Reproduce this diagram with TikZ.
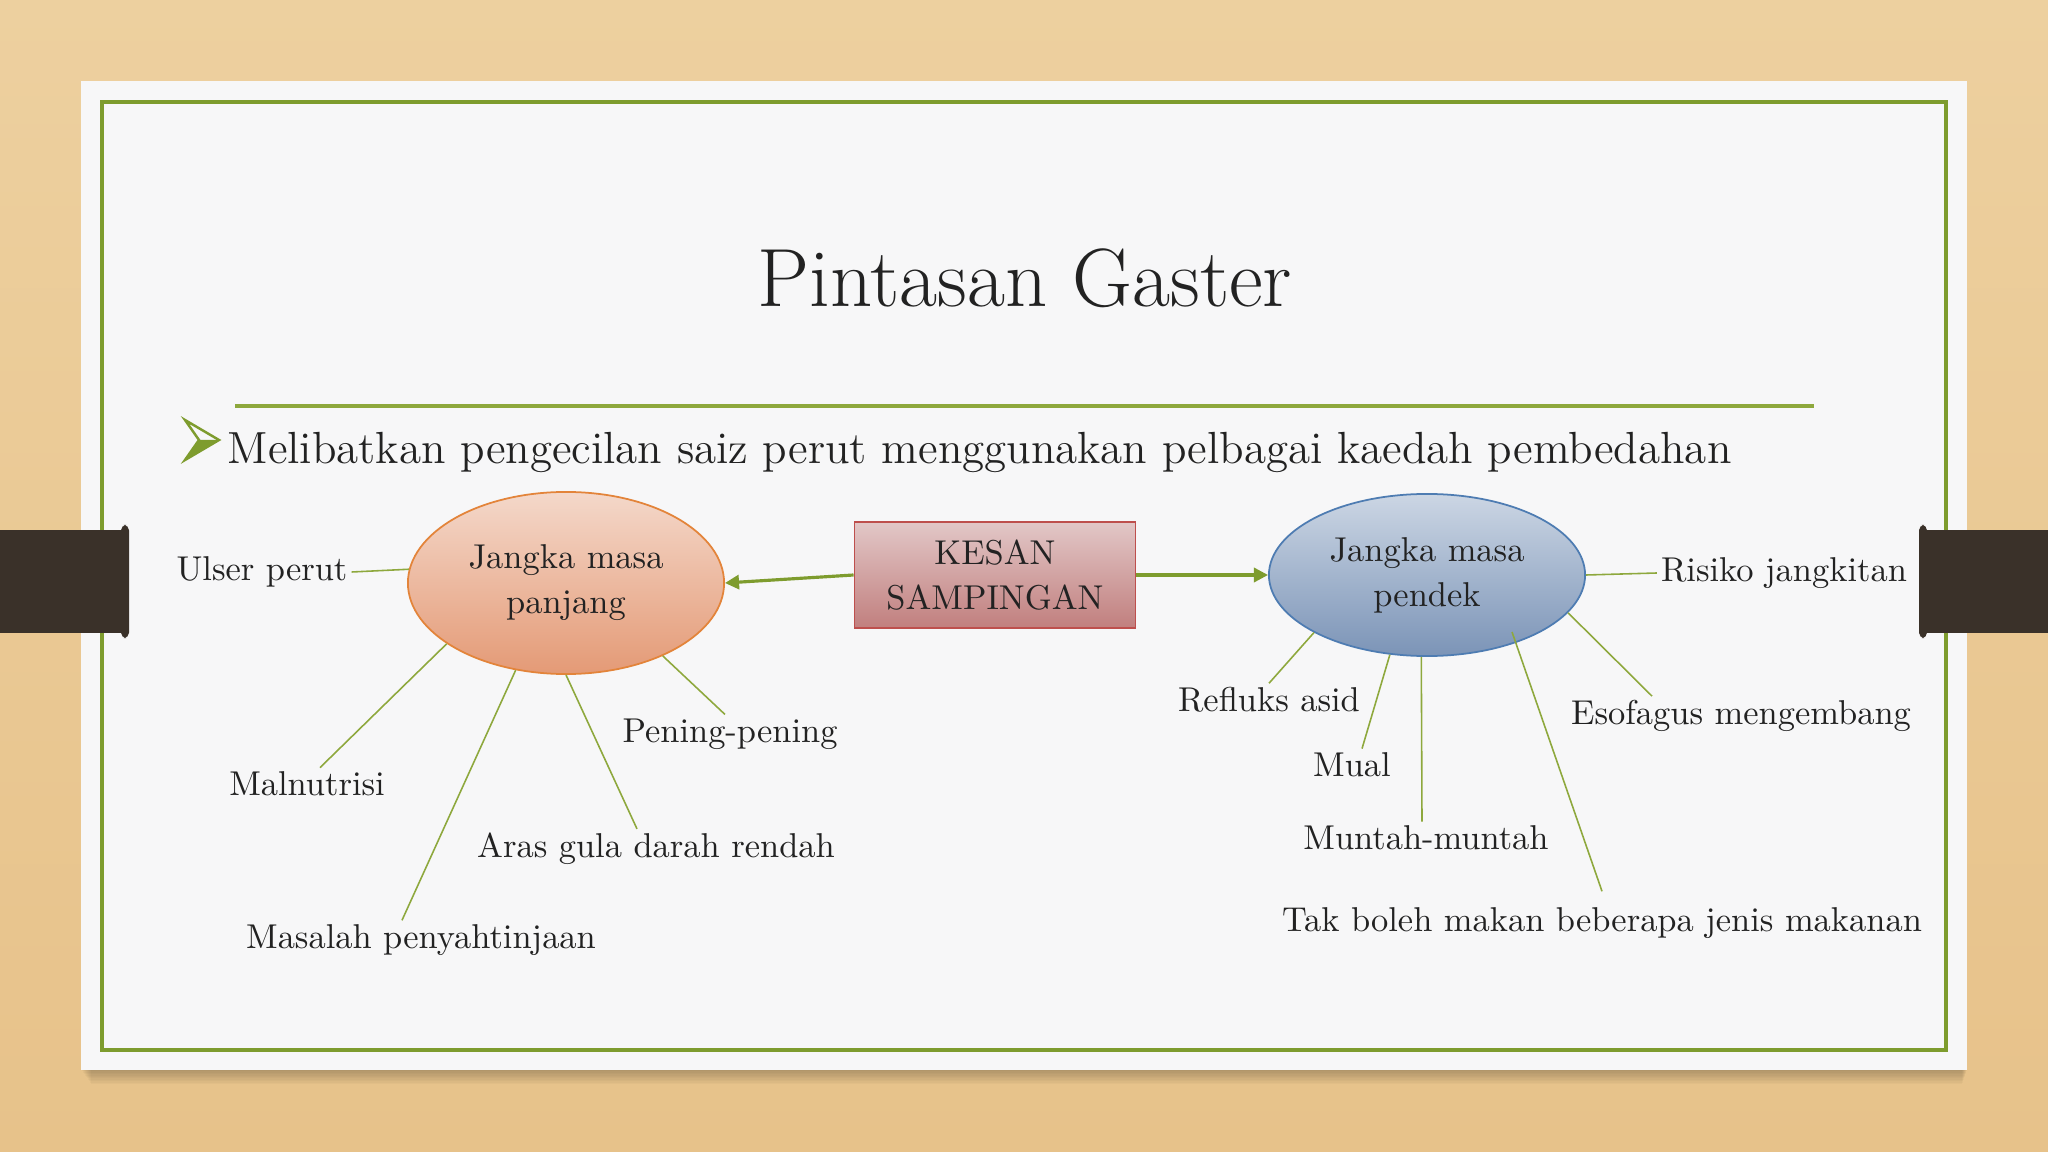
\documentclass[tikz,border=0pt]{standalone}
\usepackage{fontspec}
\usepackage{tikz}
\usetikzlibrary{arrows.meta,calc,shapes.geometric}

\definecolor{kayu}{HTML}{E7C28A}
\definecolor{kayuatas}{HTML}{EDD09F}
\definecolor{kartu}{HTML}{F7F7F8}
\definecolor{tali}{HTML}{3A3129}
\definecolor{hijau}{HTML}{7E9C2E}
\definecolor{garis}{HTML}{8EA83D}
\definecolor{teks}{HTML}{222222}
\definecolor{jinggaatas}{HTML}{F4D8CA}
\definecolor{jinggabawah}{HTML}{E49A76}
\definecolor{jingga}{HTML}{E3843A}
\definecolor{merahatas}{HTML}{E2C7C7}
\definecolor{merahbawah}{HTML}{C17F7E}
\definecolor{merah}{HTML}{BE4F4D}
\definecolor{biruatas}{HTML}{CCD6E4}
\definecolor{birubawah}{HTML}{7B94B7}
\definecolor{biru}{HTML}{4E7CB2}

\tikzset{
  lbl/.style={inner sep=1pt, text=teks, font=\fontsize{9.8}{12.8}\selectfont},
  sambung/.style={draw=garis, line width=0.45pt},
  anak/.style={draw=hijau, line width=0.9pt, -{Triangle[length=4pt,width=4pt]}},
  bujur/.style={ellipse, inner sep=0pt, align=center, text=teks,
    font=\fontsize{9.8}{12.8}\selectfont, line width=0.5pt},
  kesan/.style={rectangle, draw=merah, line width=0.5pt, top color=merahatas,
    bottom color=merahbawah, minimum width=2.81cm, minimum height=1.06cm,
    align=center, text=teks, font=\fontsize{9.8}{12.8}\selectfont},
}

\begin{document}
\begin{tikzpicture}[x=0.01cm,y=-0.01cm]
    \useasboundingbox (0,0) rectangle (2048,1152);
    % latar kayu
    \shade[top color=kayuatas, bottom color=kayu] (0,0) rectangle (2048,1152);
    % bayang kad
    \foreach \i in {1,...,10}
        \fill[black, opacity=0.025] (81+\i,81+\i) rectangle (1967-\i*0.5,1070+\i*1.4);
    \fill[kartu] (81,81) rectangle (1967,1070);
    \draw[hijau, line width=1.1pt] (102,102) rectangle (1946,1050);
    % tali kiri dan kanan
    \fill[tali] (0,530) rectangle (126,633);
    \fill[tali, rounded corners=1.5pt] (121,525) rectangle (129,638);
    \fill[tali] (1922,530) rectangle (2048,633);
    \fill[tali, rounded corners=1.5pt] (1919,525) rectangle (1927,638);

    \node[anchor=base, text=teks, font=\fontsize{23.5}{28}\selectfont] (judul) at (1025,307) {Pintasan Gaster};
    \draw[garis, line width=0.9pt] (235,406) -- (1814,406);
    % peluru
    \fill[hijau] (199,440) -- (219,440) -- (185,460) -- cycle;
    \draw[hijau, line width=0.7pt, line join=miter] (219,440) -- (185,420) -- (199,440) -- (185,460) -- cycle;
    \node[anchor=base west, inner sep=0pt, text=teks, font=\fontsize{12.8}{15}\selectfont] (poin) at (227,464)
        {Melibatkan pengecilan saiz perut menggunakan pelbagai kaedah pembedahan};

    \node[kesan] (kesan) at (995,575) {KESAN\\SAMPINGAN};
    \node[bujur, draw=jingga, top color=jinggaatas, bottom color=jinggabawah,
        minimum width=3.16cm, minimum height=1.82cm] (lp) at (566,583) {Jangka masa\\panjang};
    \node[bujur, draw=biru, top color=biruatas, bottom color=birubawah,
        minimum width=3.16cm, minimum height=1.62cm] (rp) at (1427,575) {Jangka masa\\pendek};
    \draw[anak] (kesan.west) -- (lp.east);
    \draw[anak] (kesan.east) -- (rp.west);

    % jangka masa panjang
    \node[lbl] (ulser) at (262,572) {Ulser perut};
    \node[lbl] (malnut) at (307,784) {Malnutrisi};
    \node[lbl] (masalah) at (421,940) {Masalah penyahtinjaan};
    \node[lbl] (aras) at (656,849) {Aras gula darah rendah};
    \node[lbl] (pening) at (730,734) {Pening-pening};
    \draw[sambung] (ulser.east) -- (lp.175);
    \draw[sambung] ([xshift=0.13cm]malnut.north) -- (lp.207);
    \draw[sambung] ([xshift=-0.19cm]masalah.north) -- (lp.240);
    \draw[sambung] ([xshift=-0.19cm]aras.north) -- (lp.270);
    \draw[sambung] ([xshift=-0.05cm]pening.north) -- (lp.323);

    % jangka masa pendek
    \node[lbl] (risiko) at (1784,573) {Risiko jangkitan};
    \node[lbl] (refluks) at (1269,700) {Refluks asid};
    \node[lbl] (mual) at (1352,765) {Mual};
    \node[lbl] (muntah) at (1426,838) {Muntah-muntah};
    \node[lbl] (esof) at (1741,716) {Esofagus mengembang};
    \node[lbl] (takboleh) at (1602,923) {Tak boleh makan beberapa jenis makanan};
    \coordinate (rp-dalam) at ($(rp.center)+(85,57)$);
    \draw[sambung] (rp.east) -- (risiko.west);
    \draw[sambung] (refluks.north) -- (rp.207);
    \draw[sambung] ([xshift=0.1cm]mual.north) -- (rp.245);
    \draw[sambung] ([xshift=-0.04cm]muntah.north) -- (rp.266);
    \draw[sambung] ([xshift=-0.89cm]esof.north) -- (rp.345);
    \draw[sambung] ([yshift=0.12cm]takboleh.north) -- (rp-dalam);
\end{tikzpicture}
\end{document}
